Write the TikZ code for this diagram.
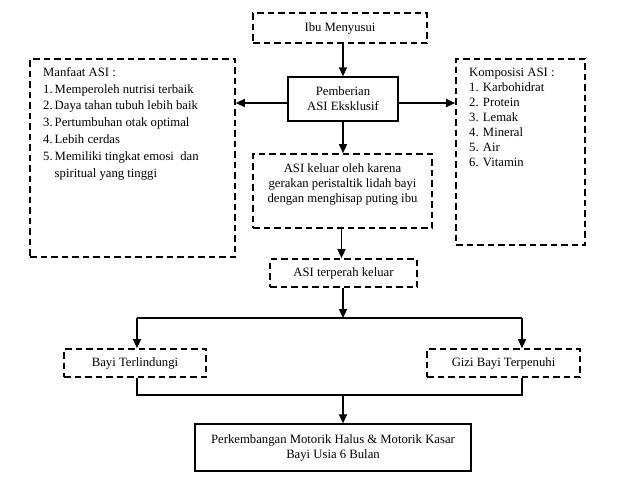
\documentclass[tikz,border=0pt]{standalone}
\usepackage{fontspec}
\setmainfont{Liberation Serif}
\usetikzlibrary{arrows.meta}
\begin{document}
\begin{tikzpicture}[x=1pt,y=-1pt,
  every node/.style={font=\fontsize{12.7}{15}\selectfont},
  dbox/.style={draw, line width=1.7pt, dash pattern=on 6.5pt off 4pt, inner sep=0pt, align=center},
  sbox/.style={draw, line width=1.3pt, inner sep=0pt, align=center},
  line/.style={draw, line width=1.3pt},
  arr/.style={line, -{Triangle[length=9pt,width=8pt]}},
  txt/.style={inner sep=0pt, anchor=north west, align=left}
]
\useasboundingbox (0,0) rectangle (637,480);
\fill[white] (0,0) rectangle (637,480);

\node[dbox, minimum width=174pt, minimum height=30pt] (ibu) at (340,28) {Ibu Menyusui};
\node[sbox, minimum width=110pt, minimum height=44pt] (pem) at (343,99) {Pemberian\\ASI Eksklusif};
\node[dbox, minimum width=205pt, minimum height=198pt] (manf) at (132.5,158) {};
\node[dbox, minimum width=129pt, minimum height=186pt] (komp) at (520.5,152) {};
\node[dbox, minimum width=179pt, minimum height=74pt, text depth=16pt] (kel) at (342.5,191) {ASI keluar oleh karena\\gerakan peristaltik lidah bayi\\dengan menghisap puting ibu};
\node[dbox, minimum width=147pt, minimum height=28pt] (terp) at (343.5,273) {ASI terperah keluar};
\node[dbox, minimum width=142pt, minimum height=28pt] (bayi) at (135,363) {Bayi Terlindungi};
\node[dbox, minimum width=153pt, minimum height=28pt] (gizi) at (503.5,363) {Gizi Bayi Terpenuhi};
\node[sbox, minimum width=276pt, minimum height=47pt] (fin) at (333,447.5) {Perkembangan Motorik Halus \& Motorik Kasar\\Bayi Usia 6 Bulan};

\node[txt] (mtxt) at (43,64) {\renewcommand{\arraystretch}{1.13}\begin{tabular}{@{}l@{\hspace{2pt}}l@{}}
\multicolumn{2}{@{}l}{Manfaat ASI :}\\
1. & Memperoleh nutrisi terbaik\\
2. & Daya tahan tubuh lebih baik\\
3. & Pertumbuhan otak optimal\\
4. & Lebih cerdas\\
5. & Memiliki tingkat emosi \ dan\\
   & spiritual yang tinggi
\end{tabular}};
\node[txt] (ktxt) at (469,66) {\renewcommand{\arraystretch}{1.0}\begin{tabular}{@{}l@{}}
Komposisi ASI :\\
1. Karbohidrat\\
2. Protein\\
3. Lemak\\
4. Mineral\\
5. Air\\
6. Vitamin
\end{tabular}};

\coordinate (pl) at (288,103);
\coordinate (pr) at (398,103);
\coordinate (jt) at (343,318);
\coordinate (jl) at (137,318);
\coordinate (jr) at (522,318);
\coordinate (bl) at (137,395);
\coordinate (br) at (522,395);
\coordinate (bm) at (343,395);

\draw[arr] (pem.north |- ibu.south) -- (pem.north);
\draw[arr] (pl) -- (pl -| manf.east);
\draw[arr] (pr) -- (pr -| komp.west);
\draw[arr] (pem.south) -- (pem.south |- kel.north);
\draw[arr] ([xshift=-1pt]kel.south) -- ([xshift=-1pt]kel.south |- terp.north);
\draw[arr] (jt |- terp.south) -- (jt);
\draw[line] (jl) -- (jr);
\draw[arr] (jl) -- (jl |- bayi.north);
\draw[arr] (jr) -- (jr |- gizi.north);
\draw[line] (jl |- bayi.south) -- (bl) -- (br) -- (jr |- gizi.south);
\draw[arr] (bm) -- (bm |- fin.north);
\end{tikzpicture}
\end{document}
